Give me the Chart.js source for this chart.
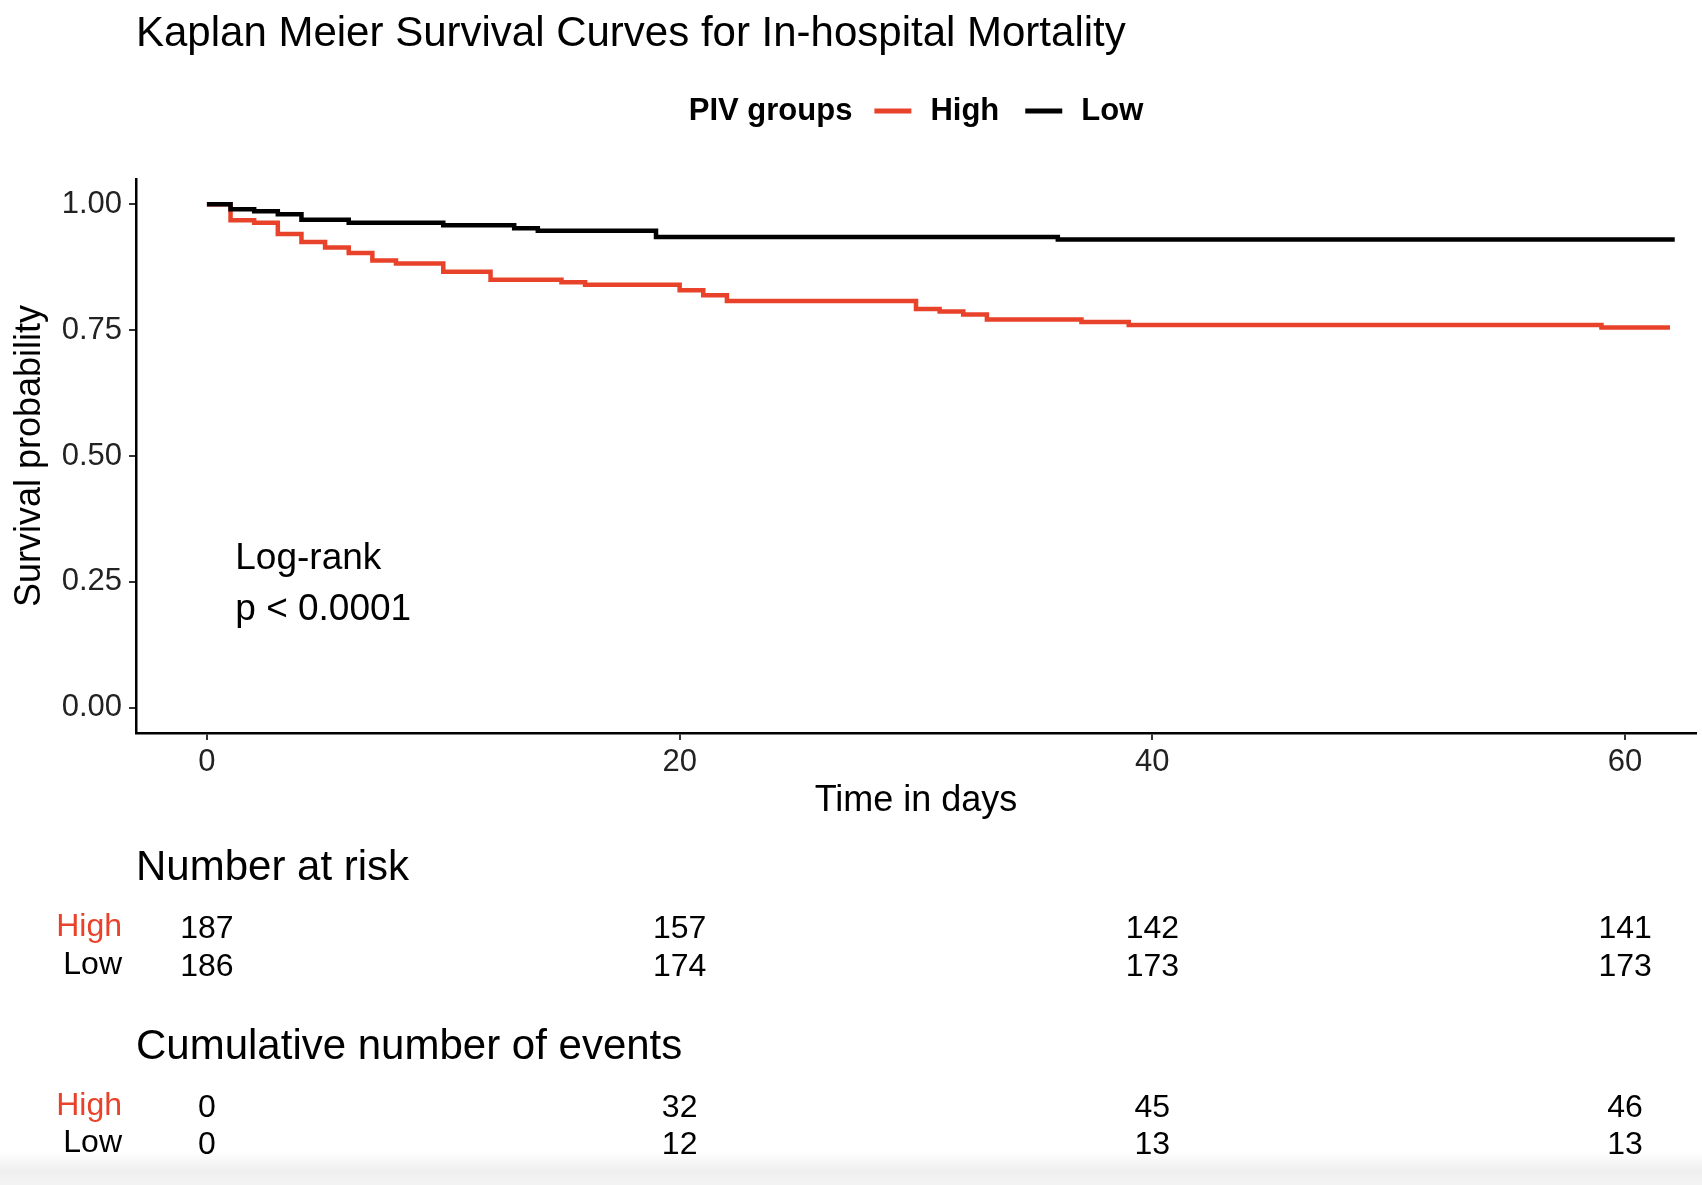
<!DOCTYPE html>
<html>
<head>
<meta charset="utf-8">
<script src="https://cdn.jsdelivr.net/npm/chart.js@4.4.1/dist/chart.umd.min.js"></script>
<style>
  html, body { margin: 0; padding: 0; background: #fff; overflow: hidden; }
  #wrap { position: relative; width: 1702px; height: 1185px; }
  #band { position: absolute; left: 0; right: 0; top: 1152px; height: 33px; background: linear-gradient(#ffffff, #efefef 55%, #f3f3f3); }
  #km { position: absolute; left: 0; top: 0; }
</style>
</head>
<body>
<div id="wrap">
  <div id="band"></div>
  <canvas id="km" width="1702" height="1185"></canvas>
</div>
<script>
// KM step data (time in days, survival probability)
var highTimes = [0, 1, 2, 3, 4, 5, 6, 7, 8, 10, 12, 15, 16, 20, 21, 22, 30, 31, 32, 33, 37, 39, 59, 61.9];
var highSurv  = [1, 0.968, 0.963, 0.941, 0.925, 0.914, 0.903, 0.888, 0.882, 0.866, 0.850, 0.845, 0.840, 0.829, 0.819, 0.808, 0.792, 0.787, 0.781, 0.771, 0.766, 0.760, 0.755, 0.755];
var lowTimes  = [0, 1, 2, 3, 4, 6, 10, 13, 14, 19, 36, 62.1];
var lowSurv   = [1, 0.990, 0.986, 0.980, 0.969, 0.963, 0.958, 0.952, 0.947, 0.935, 0.930, 0.930];

var xTicks = [0, 20, 40, 60];
var yTicks = [0, 0.25, 0.5, 0.75, 1];

// risk table
var tableTimes = [0, 20, 40, 60];
var riskHigh   = [187, 157, 142, 141];
var riskLow    = [186, 174, 173, 173];
var eventsHigh = [0, 32, 45, 46];
var eventsLow  = [0, 12, 13, 13];

var RED = '#E8432A';
var FONT = "'Liberation Sans', Arial, Helvetica, sans-serif";

function pts(xs, ys) {
    return xs.map(function(x, i) { return { x: x, y: ys[i] }; });
}

var annot = {
    id: 'annot',
    afterDraw: function(chart) {
        var ctx = chart.ctx;
        var xs = chart.scales.x, ys = chart.scales.y, area = chart.chartArea;
        ctx.save();
        ctx.textBaseline = 'middle';

        // title
        ctx.fillStyle = '#000';
        ctx.textAlign = 'left';
        ctx.font = '42px ' + FONT;
        ctx.fillText('Kaplan Meier Survival Curves for In-hospital Mortality', area.left, 34);

        // legend
        ctx.font = 'bold 31px ' + FONT;
        var ds = chart.data.datasets;
        var lead = 'PIV groups';
        var lineLen = 37;
        var total = ctx.measureText(lead).width;
        ds.forEach(function(d, i) {
            total += (i == 0 ? 22 : 26) + lineLen + 19 + ctx.measureText(d.label).width;
        });
        var lx = (area.left + area.right) / 2 - total / 2;
        var ly = 111;
        ctx.fillText(lead, lx, ly);
        lx += ctx.measureText(lead).width;
        ds.forEach(function(d, i) {
            lx += (i == 0 ? 22 : 26);
            ctx.strokeStyle = d.borderColor;
            ctx.lineWidth = 5;
            ctx.beginPath();
            ctx.moveTo(lx, ly);
            ctx.lineTo(lx + lineLen, ly);
            ctx.stroke();
            lx += lineLen + 19;
            ctx.fillStyle = '#000';
            ctx.fillText(d.label, lx, ly);
            lx += ctx.measureText(d.label).width;
        });

        // log-rank annotation
        ctx.font = '37px ' + FONT;
        ctx.fillStyle = '#000';
        ctx.fillText('Log-rank', xs.getPixelForValue(1.2), ys.getPixelForValue(0.295));
        ctx.fillText('p < 0.0001', xs.getPixelForValue(1.2), ys.getPixelForValue(0.195));

        // tables
        function table(title, titleY, rows) {
            ctx.font = '42px ' + FONT;
            ctx.textAlign = 'left';
            ctx.fillStyle = '#000';
            ctx.fillText(title, area.left, titleY);
            ctx.font = '32px ' + FONT;
            rows.forEach(function(r) {
                ctx.textAlign = 'right';
                ctx.fillStyle = r.color;
                ctx.fillText(r.label, area.left - 14, r.y);
                ctx.textAlign = 'center';
                ctx.fillStyle = '#000';
                tableTimes.forEach(function(t, i) {
                    ctx.fillText(String(r.values[i]), xs.getPixelForValue(t), r.y + 2);
                });
            });
        }
        table('Number at risk', 868, [
            { label: 'High', color: RED, values: riskHigh, y: 927 },
            { label: 'Low', color: '#000', values: riskLow, y: 965 }
        ]);
        table('Cumulative number of events', 1047, [
            { label: 'High', color: RED, values: eventsHigh, y: 1106 },
            { label: 'Low', color: '#000', values: eventsLow, y: 1143 }
        ]);
        ctx.restore();
    }
};

new Chart(document.getElementById('km'), {
    type: 'line',
    data: {
        datasets: [
            {
                label: 'High',
                data: pts(highTimes, highSurv),
                borderColor: RED,
                borderWidth: 4.5,
                stepped: 'before',
                pointRadius: 0,
                fill: false,
                order: 1
            },
            {
                label: 'Low',
                data: pts(lowTimes, lowSurv),
                borderColor: '#000',
                borderWidth: 4.5,
                stepped: 'before',
                pointRadius: 0,
                fill: false,
                order: 0
            }
        ]
    },
    options: {
        responsive: false,
        animation: false,
        devicePixelRatio: 1,
        layout: { padding: { top: 179, right: 6, bottom: 352, left: 0 } },
        plugins: {
            legend: { display: false },
            title: { display: false },
            tooltip: { enabled: false }
        },
        scales: {
            x: {
                type: 'linear',
                min: -3,
                max: 63,
                afterBuildTicks: function(s) { s.ticks = xTicks.map(function(v) { return { value: v }; }); },
                afterFit: function(s) { s.height = 100; },
                grid: { display: true, drawOnChartArea: false, drawTicks: true, tickLength: 7, color: '#333', lineWidth: 2 },
                border: { display: true, color: '#000', width: 2.5 },
                ticks: { font: { family: FONT, size: 31 }, color: '#222', padding: 4, maxRotation: 0 },
                title: { display: true, text: 'Time in days', font: { family: FONT, size: 36 }, color: '#000', padding: { top: 0, bottom: 10 } }
            },
            y: {
                type: 'linear',
                min: -0.05,
                max: 1.05,
                afterBuildTicks: function(s) { s.ticks = yTicks.map(function(v) { return { value: v }; }); },
                afterFit: function(s) { s.width = 136; },
                grid: { display: true, drawOnChartArea: false, drawTicks: true, tickLength: 7, color: '#333', lineWidth: 2 },
                border: { display: true, color: '#000', width: 2.5 },
                ticks: {
                    font: { family: FONT, size: 31 }, color: '#222', padding: 7,
                    callback: function(v) { return Number(v).toFixed(2); }
                },
                title: { display: true, text: 'Survival probability', font: { family: FONT, size: 36 }, color: '#000', padding: { top: 8, bottom: 0 } }
            }
        }
    },
    plugins: [annot]
});
</script>
</body>
</html>
